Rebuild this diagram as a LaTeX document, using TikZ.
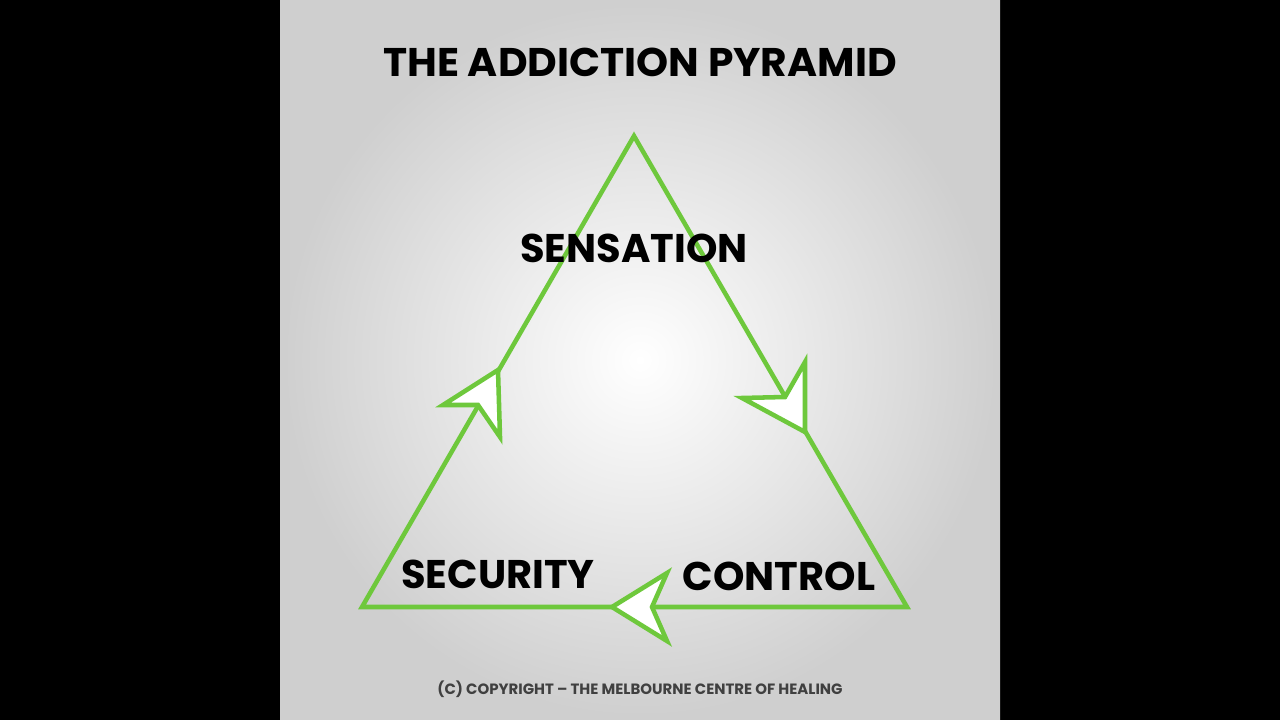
\documentclass[tikz,border=0pt]{standalone}
\usepackage{fontspec}
\setmainfont{Poppins}
\definecolor{grn}{RGB}{110,200,60}
\begin{document}
\begin{tikzpicture}[x=0.75pt,y=-0.75pt,
  edge/.style={draw=grn,line width=3.4pt,line join=miter},
  head/.style={draw=grn,fill=white,line width=3.4pt,line join=miter},
  lbl/.style={font=\fontsize{30pt}{33pt}\selectfont\bfseries,text=black}]
\fill[black] (0,0) rectangle (1280,720);
\useasboundingbox (0,0) rectangle (1280,720);
\shade[inner color=white,outer color=gray!38] (280,0) rectangle (1000,720);
\coordinate (A) at (634,136);
\coordinate (L) at (362,607);
\coordinate (R) at (907,607);
\draw[edge] (A) -- (R) -- (L) -- cycle;
\draw[head] (805,432) -- (742,398) -- (785,397) -- (805,362) -- cycle;
\draw[head] (498,370) -- (500,437) -- (478,405) -- (443,405) -- cycle;
\draw[head] (612,607) -- (667,573) -- (652,607) -- (667,641) -- cycle;
\node[font=\fontsize{30pt}{33pt}\selectfont\bfseries,xscale=1.02] (t) at (640,62) {THE ADDICTION PYRAMID};
\node[lbl] (s) at (634,248) {SENSATION};
\node[lbl] (se) at (498,574) {SECURITY};
\node[lbl] (c) at (779,576) {CONTROL};
\node[font=\fontsize{11.2pt}{13pt}\selectfont\bfseries,text=black!75] (cp) at (640,689) {(C) COPYRIGHT – THE MELBOURNE CENTRE OF HEALING};
\end{tikzpicture}
\end{document}
